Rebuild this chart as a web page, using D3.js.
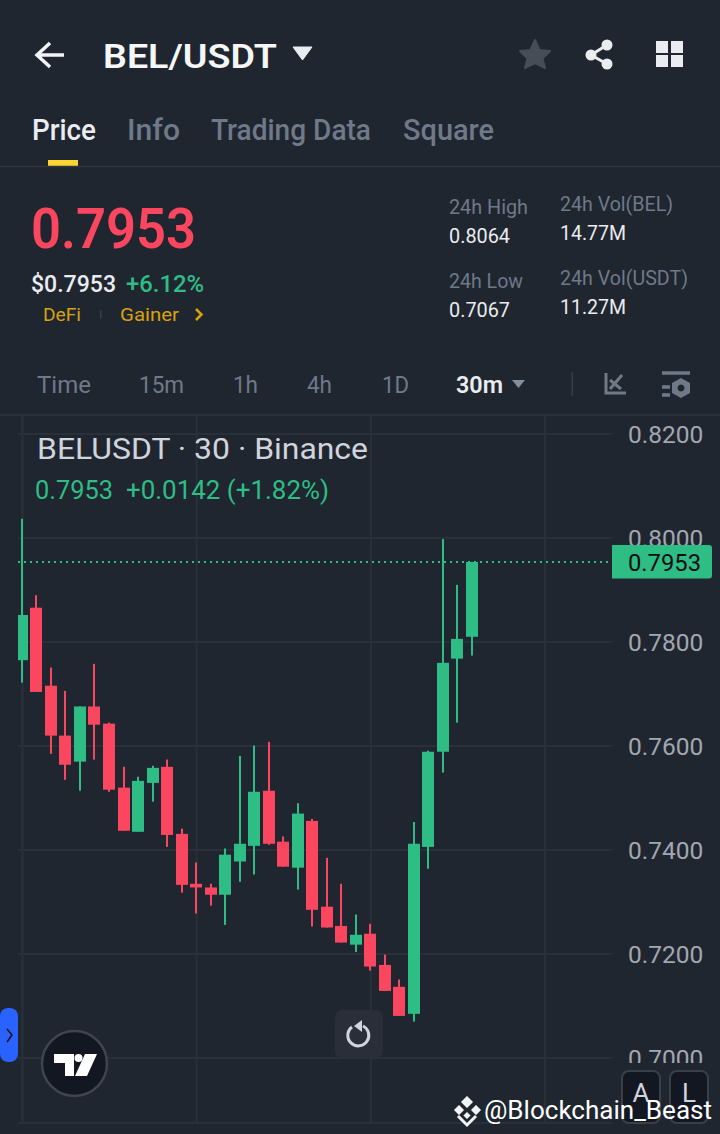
<!DOCTYPE html>
<html><head><meta charset="utf-8">
<script src="https://cdnjs.cloudflare.com/ajax/libs/d3/7.8.5/d3.min.js"></script>
<style>html,body{margin:0;padding:0;background:#1f2630}svg{display:block}text{font-family:Roboto,sans-serif}</style>
</head><body><svg id="c" width="720" height="1134"></svg>
<script>
const opens  =[.7764,.7865,.7715,.7619,.7569,.7675,.7642,.7519,.7434,.7528,.7559,.7430,.7334,.7327,.7313,.7377,.7407,.7513,.7415,.7365,.7455,.7290,.7253,.7217,.7238,.7178,.7136,.7084,.7405,.7588,.7767,.7809];
const closes =[.7851,.7703,.7619,.7563,.7675,.7640,.7515,.7436,.7532,.7557,.7428,.7332,.7327,.7313,.7390,.7411,.7511,.7411,.7367,.7469,.7284,.7250,.7221,.7236,.7175,.7128,.7080,.7411,.7588,.7759,.7805,.7953];
const highs  =[.8036,.7889,.7750,.7705,.7675,.7757,.7644,.7559,.7540,.7561,.7573,.7440,.7375,.7334,.7402,.7580,.7600,.7607,.7425,.7489,.7459,.7384,.7334,.7275,.7257,.7198,.7150,.7453,.7590,.7997,.7909,.7953];
const lows   =[.7721,.7703,.7584,.7534,.7513,.7573,.7511,.7436,.7434,.7492,.7405,.7317,.7277,.7292,.7255,.7338,.7352,.7409,.7367,.7323,.7252,.7250,.7221,.7203,.7167,.7128,.7080,.7069,.7363,.7548,.7644,.7773];
const priceTicks=[.82,.80,.78,.76,.74,.72,.70];
const timeTicks=[0,12,24,36];
const lastPrice=.7953;

const BG='#1f2630',GRID='#2a3039',UP='#2ebd85',DOWN='#fb4660',WHITE='#eaecef',GRAY='#6f7988',YEL='#d9a20f';
const svg=d3.select('#c');
svg.append('rect').attr('width',720).attr('height',1134).attr('fill',BG);

const x=d3.scaleLinear().domain([0,31]).range([22,472]);
const y=d3.scaleLinear().domain([.82,.70]).range([433.5,1057.5]);
const paneL=18,paneR=612,paneT=415,paneB=1123;
const snap=i=>Math.floor(x(i)+.4);

svg.append('defs').append('clipPath').attr('id','pane').append('rect')
  .attr('x',paneL).attr('y',paneT).attr('width',paneR-paneL).attr('height',paneB-paneT);

// grid and axes
const gy=svg.append('g').attr('transform',`translate(${paneR},0)`)
  .call(d3.axisRight(y).tickValues(priceTicks).tickFormat(d3.format('.4f')).tickSize(-(paneR-paneL)).tickPadding(16));
gy.select('.domain').remove();
gy.selectAll('line').attr('stroke',GRID).attr('stroke-width',2);
gy.selectAll('text').attr('fill','#a2a7b0').attr('font-size',24.5).attr('font-family','Roboto').attr('dy','0.36em');

const gx=svg.append('g').attr('transform',`translate(0,${paneB})`)
  .call(d3.axisBottom(x).tickValues(timeTicks).tickFormat('').tickSize(-(paneB-paneT)));
gx.select('.domain').remove();
gx.selectAll('line').attr('stroke',GRID).attr('stroke-width',2);
svg.append('line').attr('x1',paneL).attr('x2',paneR).attr('y1',paneB).attr('y2',paneB).attr('stroke',GRID).attr('stroke-width',2);
svg.append('line').attr('x1',0).attr('x2',720).attr('y1',paneT).attr('y2',paneT).attr('stroke','#282f39').attr('stroke-width',2);

// candles
const data=opens.map((o,i)=>({i,o,c:closes[i],h:highs[i],l:lows[i]}));
const col=d=>d.c>=d.o?UP:DOWN;
const pane=svg.append('g').attr('clip-path','url(#pane)');
pane.selectAll('.w').data(data).join('rect').attr('class','w')
  .attr('x',d=>snap(d.i)-1).attr('width',2)
  .attr('y',d=>y(d.h)).attr('height',d=>y(d.l)-y(d.h)).attr('fill',col);
pane.selectAll('.b').data(data).join('rect').attr('class','b')
  .attr('x',d=>snap(d.i)-6).attr('width',12)
  .attr('y',d=>y(Math.max(d.o,d.c))).attr('height',d=>Math.abs(y(d.o)-y(d.c))).attr('fill',col);

// last price line
svg.append('line').attr('x1',paneL).attr('x2',paneR).attr('y1',Math.round(y(lastPrice))).attr('y2',Math.round(y(lastPrice)))
  .attr('stroke',UP).attr('stroke-width',2).attr('stroke-dasharray','2 4');
svg.append('path').attr('fill',UP).attr('d',`M612 545H709a3 3 0 0 1 3 3V575.5a3 3 0 0 1-3 3H612Z`);

// clip of the lowest tick under the A/L controls
svg.append('rect').attr('x',612).attr('y',1063).attr('width',108).attr('height',71).attr('fill',BG);

function t(s,px,py,size,fill,w,weight,anchor){
  const n=svg.append('text').attr('x',px).attr('y',py).attr('font-size',size).attr('fill',fill).attr('font-weight',weight||400).text(s);
  if(w){n.attr('textLength',w).attr('lengthAdjust','spacingAndGlyphs');}
  if(anchor)n.attr('text-anchor',anchor);
  return n;
}
t(d3.format('.4f')(lastPrice),628,571,24.5,'#0b0e11',73);

// header
svg.append('path').attr('d','M64 55H38M50 43L37 55L50 67').attr('fill','none').attr('stroke','#f2f3f5').attr('stroke-width',3.5);
t('BEL/USDT',103,68,34,'#f5f6f7',174,600);
svg.append('path').attr('d','M293 47H312L302.5 60Z').attr('fill','#eaecef').attr('stroke','#eaecef').attr('stroke-width',1).attr('stroke-linejoin','round');
// star
svg.append('path').attr('fill','#474d57').attr('stroke','#474d57').attr('stroke-linejoin','round').attr('stroke-width',2)
  .attr('d','M535 40L539.5 50L550 51L542.5 58.5L545 68L535 63L525 68L527.5 58.5L520 51L530.5 50Z');
// share
svg.append('g').call(g=>{
  g.append('path').attr('d','M607 45L591 55L607 64').attr('fill','none').attr('stroke','#eaecef').attr('stroke-width',3);
  [[607,45],[591,55],[607,64]].forEach(p=>g.append('circle').attr('cx',p[0]).attr('cy',p[1]).attr('r',5.5).attr('fill','#eaecef'));
});
// grid icon
[[656,41,12,12],[671,41,12,12],[656,55,12,12],[671,55,12,12]].forEach(r=>svg.append('rect').attr('x',r[0]).attr('y',r[1]).attr('width',r[2]).attr('height',r[3]).attr('fill','#eaecef'));

// tabs
t('Price',32,140,29,WHITE,64,500);
t('Info',127,140,29,GRAY,53,500);
t('Trading Data',211,140,29,GRAY,160,500);
t('Square',403,140,29,GRAY,91,500);
svg.append('rect').attr('x',48).attr('y',160).attr('width',30).attr('height',6).attr('fill','#fcd535');
svg.append('line').attr('x1',0).attr('x2',720).attr('y1',166.5).attr('y2',166.5).attr('stroke','#2f363f').attr('stroke-width',1.5);

// price block
t('0.7953',31,248,56,DOWN,165,600);
t('$0.7953',31,292,23,WHITE,85,500);
t('+6.12%',126,292,23,UP,78,500);
t('DeFi',43,321,19,YEL,38);
svg.append('rect').attr('x',100).attr('y',310).attr('width',1.5).attr('height',8).attr('fill','#3a414c');
t('Gainer',120,321,19,YEL,59);
svg.append('path').attr('d','M196 309L201.5 314.5L196 320').attr('fill','none').attr('stroke',YEL).attr('stroke-width',2.5);

t('24h High',449,214,20,GRAY,79);
t('0.8064',449,243,19.5,WHITE,61);
t('24h Low',449,288,20,GRAY,74);
t('0.7067',449,317,19.5,WHITE,61);
t('24h Vol(BEL)',560,211,20,GRAY,113);
t('14.77M',560,240,19.5,WHITE,66);
t('24h Vol(USDT)',560,285,20,GRAY,128);
t('11.27M',560,314,19.5,WHITE,66);

// timeframe row
t('Time',37,393,23.5,GRAY,54);
t('15m',139,393,23.5,GRAY,45);
t('1h',233,393,23.5,GRAY,25);
t('4h',307,393,23.5,GRAY,25);
t('1D',382,393,23.5,GRAY,27);
t('30m',456,393,23.5,WHITE,47,600);
svg.append('path').attr('d','M512 380H525L518.5 388Z').attr('fill','#848e9c');
svg.append('rect').attr('x',571.5).attr('y',372).attr('width',1.5).attr('height',24).attr('fill','#353c47');
svg.append('path').attr('d','M606 373V393H626M610 380L621 389M610 389L622 375').attr('fill','none').attr('stroke','#6f7988').attr('stroke-width',3);
svg.append('path').attr('d','M662 373H690M662 387H670M662 395H670').attr('fill','none').attr('stroke','#6f7988').attr('stroke-width',3.5);
svg.append('path').attr('fill','#6f7988').attr('fill-rule','evenodd')
  .attr('d','M681 378L690 383V393L681 398L672 393V383ZM681 384.5a3.5 3.5 0 1 0 .01 0Z');

// chart legend
t('BELUSDT · 30 · Binance',37,459,29,'#d1d4dc',331);
t('0.7953',35,499,25,UP,78);
t('+0.0142 (+1.82%)',126,499,25,UP,203);

// side tab
svg.append('rect').attr('x',0).attr('y',1008).attr('width',18).attr('height',54).attr('rx',8).attr('fill','#2962ff');
svg.append('path').attr('d','M7 1029L12 1035L7 1042').attr('fill','none').attr('stroke','#10131a').attr('stroke-width',1.5);

// TV logo
svg.append('circle').attr('cx',74.5).attr('cy',1063.5).attr('r',32.5).attr('fill','#131722').attr('stroke','#3f444e').attr('stroke-width',2.5);
svg.append('path').attr('fill','#fff').attr('d','M54 1054H74V1076H65V1063H54ZM85 1054H97L87 1076H75Z');
svg.append('circle').attr('cx',78.5).attr('cy',1058).attr('r',4).attr('fill','#fff');

// reset
svg.append('rect').attr('x',335).attr('y',1010).attr('width',48).attr('height',48).attr('rx',7).attr('fill','#2a2e39');
svg.append('path').attr('d','M352 1027A10.5 10.5 0 1 0 363 1026').attr('fill','none').attr('stroke','#d1d4dc').attr('stroke-width',3);
svg.append('path').attr('d','M362 1020V1032L354 1026Z').attr('fill','#d1d4dc');

// A / L
[[622,'A'],[670,'L']].forEach(b=>{
  svg.append('rect').attr('x',b[0]).attr('y',1071).attr('width',38).attr('height',52).attr('rx',7).attr('fill','#131722').attr('stroke','#3a3f4a').attr('stroke-width',2);
  t(b[1],b[0]+19,1102,26,'#d1d4dc',null,400,'middle');
});

// watermark
svg.append('g').attr('fill','#f2f3f5').call(g=>{
  g.append('path').attr('d','M467 1096L473 1102L467 1108L461 1102ZM454 1110L459 1105L464 1110L459 1115ZM471 1110L476 1105L481 1110L476 1115ZM467 1112L470.5 1115.5L467 1119L463.5 1115.5Z').attr('stroke','#9aa0a8').attr('stroke-width',.6);
  g.append('path').attr('d','M458 1116L467 1125L476 1116').attr('fill','none').attr('stroke','#f2f3f5').attr('stroke-width',3);
});
t('@Blockchain_Beast',484,1119,26,'#ffffff',228,400);
</script></body></html>
